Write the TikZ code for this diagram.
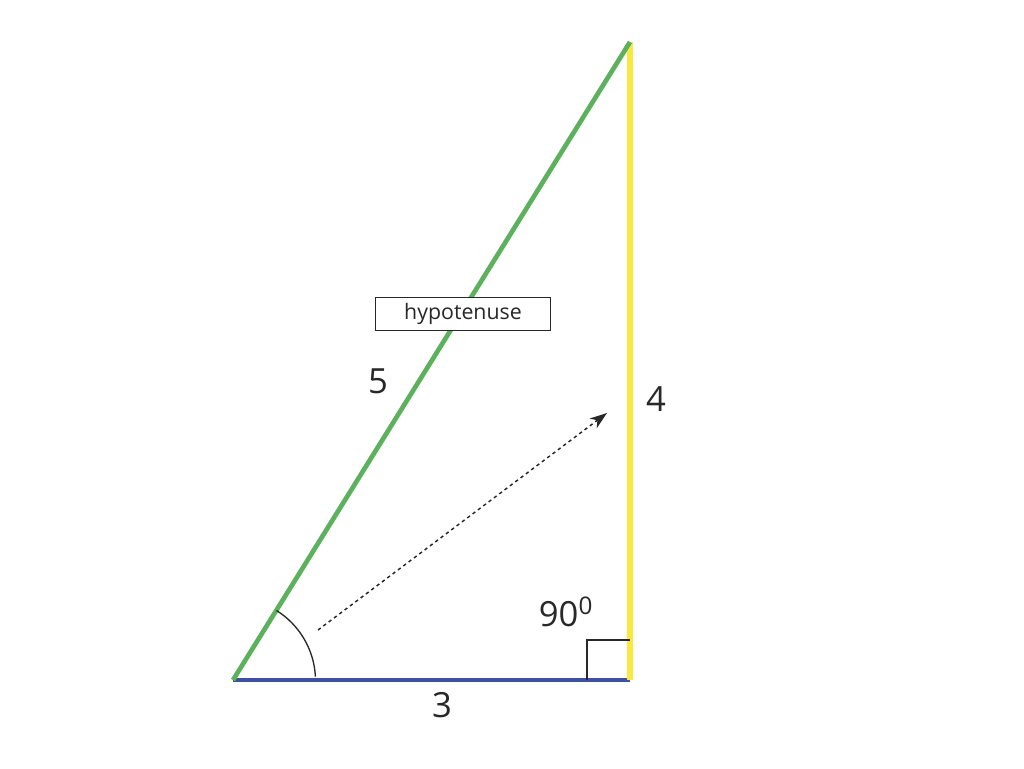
\documentclass[tikz,border=0pt]{standalone}
\usepackage{fontspec}
\setmainfont{Open Sans}
\usetikzlibrary{arrows.meta}
\definecolor{hypgreen}{RGB}{92,178,92}
\definecolor{legyellow}{RGB}{250,232,60}
\definecolor{legblue}{RGB}{62,80,160}
\definecolor{ink}{RGB}{40,40,40}
\tikzset{
  side/.style={line width=3.5pt},
  numlabel/.style={font=\fontsize{26}{30}\selectfont, text=ink},
  boxlabel/.style={draw=ink, fill=white, line width=1pt, font=\fontsize{16}{19}\selectfont, text=ink, minimum width=131pt, minimum height=25pt, inner sep=0pt},
  thin/.style={draw=ink, line width=1pt}
}
\begin{document}
\begin{tikzpicture}[x=0.75pt,y=-0.75pt]
\useasboundingbox[fill=white] (0,0) rectangle (1024,768);
\coordinate (A) at (233,680);
\coordinate (B) at (630,680);
\coordinate (C) at (630,42);
% sides
\draw[side, legblue] (A) -- (B);
\draw[side, legyellow, line width=3.8pt] (B) -- (C);
\draw[side, hypgreen] (A) -- (C);
% angle arc
\coordinate (R0) at (276.5,610.5);
\draw[thin] (R0) arc[start angle=-58, end angle=-3, radius=83];
% right angle square
\coordinate (S1) at (587,680);
\coordinate (S2) at (587,640);
\coordinate (S3) at (630,640);
\draw[thin] (S1) -- (S2) -- (S3);
% dotted arrow
\coordinate (D1) at (318,630);
\coordinate (D2) at (607,413);
\draw[ink, line width=1.1pt, dash pattern=on 2.5pt off 2.5pt, -{Stealth[length=13pt,width=9pt,inset=4pt]}] (D1) -- (D2);
% labels
\node[boxlabel] (hyp) at (463,314) {hypotenuse};
\node[numlabel] (l5) at (378,381) {5};
\node[numlabel] (l4) at (656,399) {4};
\node[numlabel] (l3) at (442,705) {3};
\node[numlabel, inner sep=0pt] (l90) at (566,612) {90\textsuperscript{0}};
\end{tikzpicture}
\end{document}
